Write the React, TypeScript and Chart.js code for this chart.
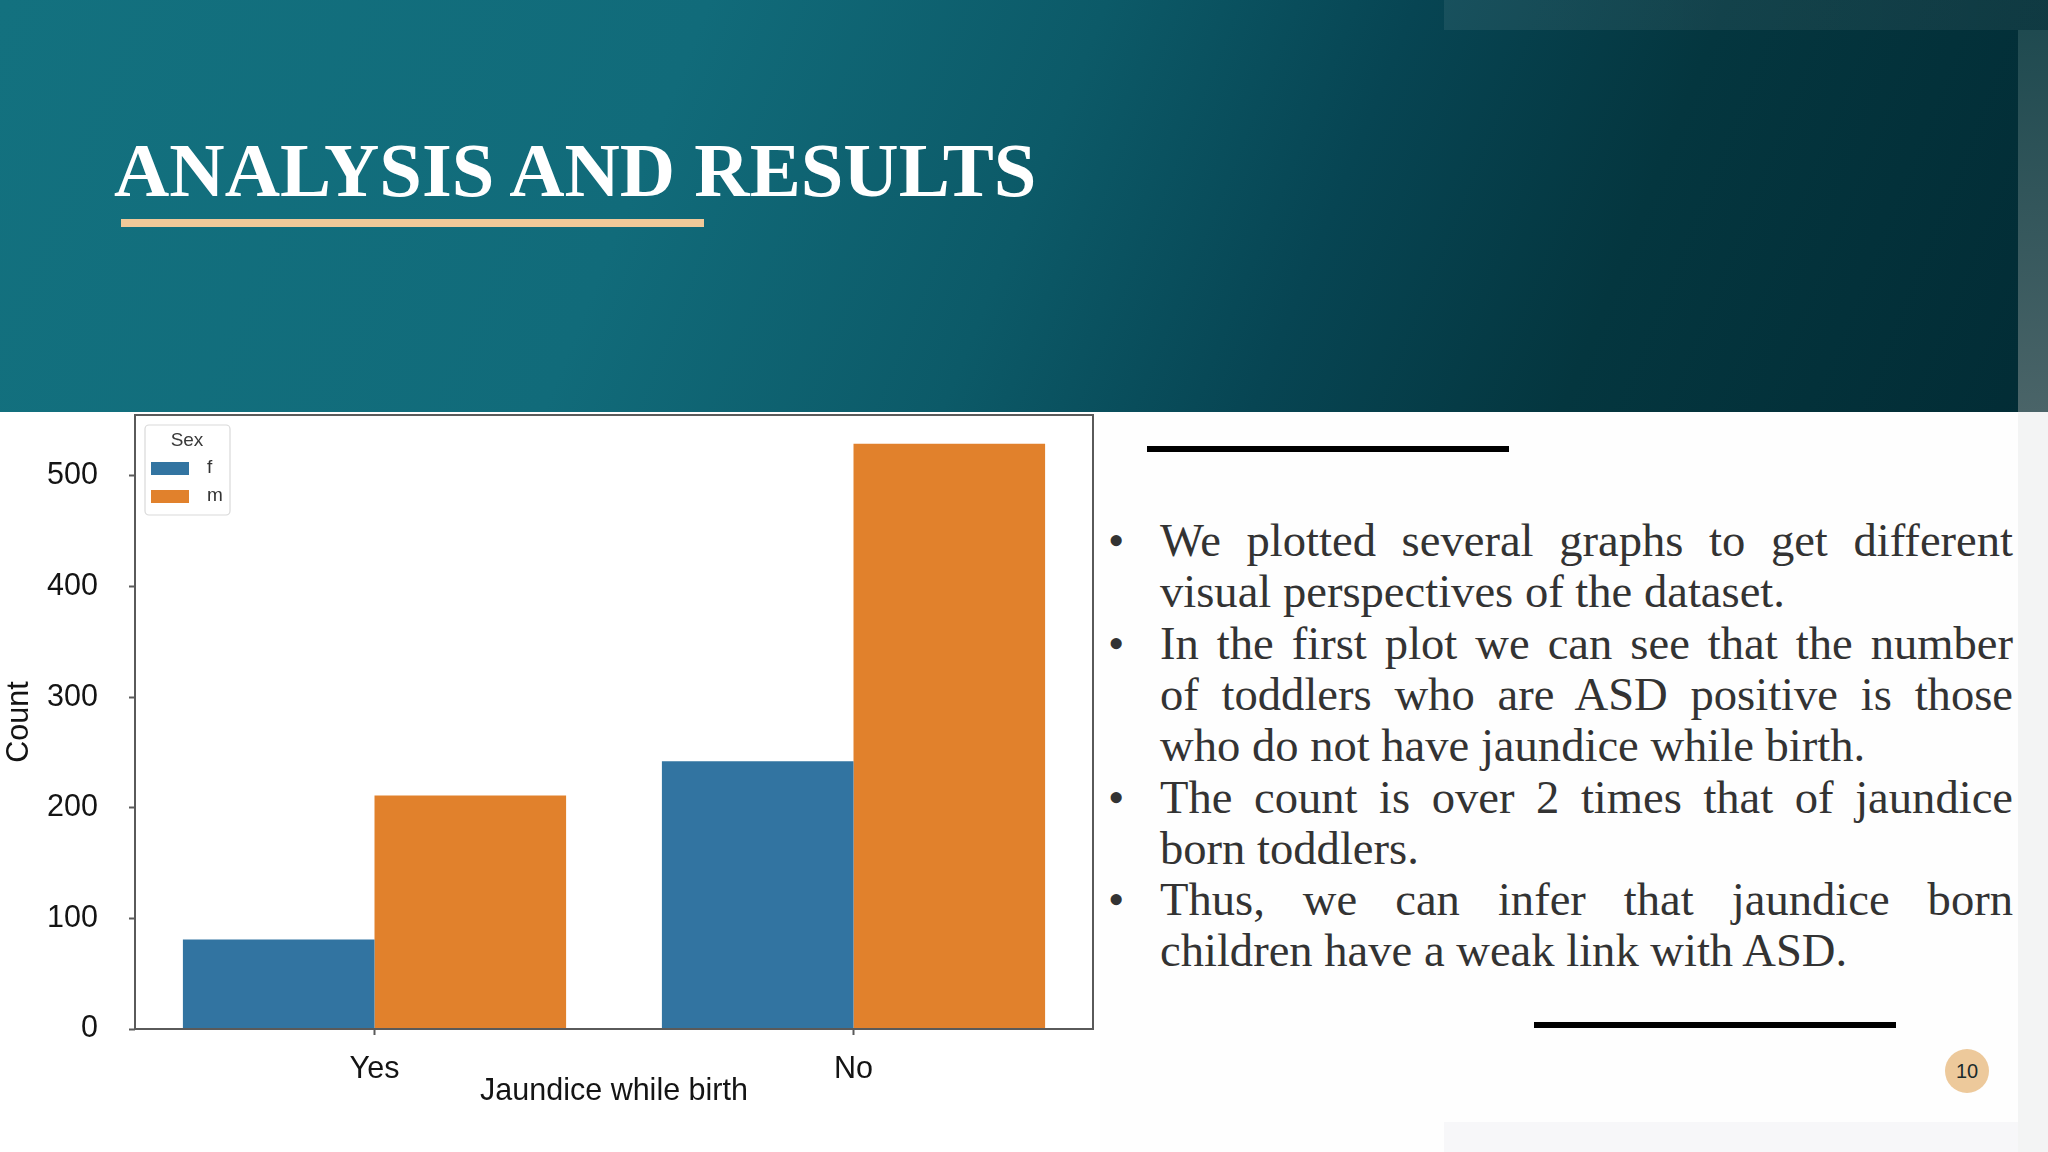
import React, { useEffect, useRef } from "react";
import { Chart, registerables } from "chart.js";

Chart.register(...registerables);

// ---------- data ----------
const categories = ["Yes", "No"];
const seriesLabels = ["f", "m"];
const femaleCounts = [81, 242];
const maleCounts = [211, 529];
const seriesColors = ["#3274a1", "#e1812c"];
const yTickValues = [0, 100, 200, 300, 400, 500];
const yMax = 555;
const xTitle = "Jaundice while birth";
const yTitle = "Count";
const legendTitle = "Sex";

const slideTitle = "ANALYSIS AND RESULTS";
const bulletLines: string[][] = [
  ["We plotted several graphs to get different", "visual perspectives of the dataset."],
  [
    "In the first plot we can see that the number",
    "of toddlers who are ASD positive is those",
    "who do not have jaundice while birth.",
  ],
  ["The count is over 2 times that of jaundice", "born toddlers."],
  ["Thus, we can infer that jaundice born", "children have a weak link with ASD."],
];
const pageNumber = "10";

const FONT = "'Liberation Sans', Arial, sans-serif";
const SERIF = "'Liberation Serif', 'Times New Roman', serif";
const AXIS_FONT_SIZE = 30.5;

const framePlugin = {
  id: "frameBox",
  afterDraw(chart: any) {
    const { ctx, chartArea: a } = chart;
    ctx.save();
    ctx.strokeStyle = "#5a5a5a";
    ctx.lineWidth = 2;
    ctx.strokeRect(a.left, a.top, a.right - a.left, a.bottom - a.top);
    ctx.restore();
  },
};

const boxLegendPlugin = {
  id: "boxLegend",
  afterDraw(chart: any) {
    const { ctx, chartArea: a } = chart;
    const x = a.left + 10;
    const y = a.top + 10;
    const w = 85;
    const h = 90;
    ctx.save();
    ctx.beginPath();
    if ((ctx as any).roundRect) (ctx as any).roundRect(x, y, w, h, 4);
    else ctx.rect(x, y, w, h);
    ctx.fillStyle = "rgba(255,255,255,0.9)";
    ctx.fill();
    ctx.strokeStyle = "#d9d9d9";
    ctx.lineWidth = 1.2;
    ctx.stroke();
    ctx.fillStyle = "#3a3a3a";
    ctx.font = `19px ${FONT}`;
    ctx.textAlign = "center";
    ctx.textBaseline = "middle";
    ctx.fillText(legendTitle, a.left + 52, a.top + 26);
    chart.data.datasets.forEach((ds: any, i: number) => {
      ctx.fillStyle = ds.backgroundColor;
      ctx.fillRect(a.left + 16, a.top + 47 + 28 * i, 38, 13);
      ctx.fillStyle = "#333";
      ctx.textAlign = "left";
      ctx.fillText(ds.label, a.left + 72, a.top + 53 + 28 * i);
    });
    ctx.restore();
  },
};

function BarChart() {
  const ref = useRef<HTMLCanvasElement | null>(null);
  useEffect(() => {
    if (!ref.current) return;
    const chart = new Chart(ref.current, {
      type: "bar",
      data: {
        labels: categories,
        datasets: [
          {
            label: seriesLabels[0],
            data: femaleCounts,
            backgroundColor: seriesColors[0],
            borderWidth: 0,
            categoryPercentage: 0.8,
            barPercentage: 1.0,
          },
          {
            label: seriesLabels[1],
            data: maleCounts,
            backgroundColor: seriesColors[1],
            borderWidth: 0,
            categoryPercentage: 0.8,
            barPercentage: 1.0,
          },
        ],
      },
      options: {
        animation: false,
        responsive: false,
        devicePixelRatio: 1,
        layout: { padding: { top: 3, right: 7, left: 0, bottom: 0 } },
        plugins: {
          legend: { display: false },
          tooltip: { enabled: false },
        },
        scales: {
          x: {
            offset: true,
            grid: {
              offset: false,
              drawOnChartArea: false,
              drawTicks: true,
              tickLength: 6,
              tickWidth: 2,
              tickColor: "#5a5a5a",
            },
            border: { display: false },
            ticks: {
              color: "#141414",
              font: { family: FONT, size: AXIS_FONT_SIZE },
              padding: 16,
              maxRotation: 0,
              autoSkip: false,
            },
            title: {
              display: true,
              text: xTitle,
              color: "#141414",
              font: { family: FONT, size: AXIS_FONT_SIZE },
              padding: { top: 0, bottom: 42 },
            },
            afterFit: (scale: any) => {
              scale.height = 123;
              scale.paddingLeft = 0;
              scale.paddingRight = 0;
            },
          },
          y: {
            min: 0,
            max: yMax,
            grid: {
              drawOnChartArea: false,
              drawTicks: true,
              tickLength: 6,
              tickWidth: 2,
              tickColor: "#5a5a5a",
            },
            border: { display: false },
            ticks: {
              stepSize: 100,
              includeBounds: false,
              color: "#141414",
              font: { family: FONT, size: AXIS_FONT_SIZE },
              padding: 31,
              callback: (v: any) => (yTickValues.includes(Number(v)) ? String(v) : ""),
            },
            title: {
              display: true,
              text: yTitle,
              color: "#141414",
              font: { family: FONT, size: AXIS_FONT_SIZE },
              padding: { top: 1, bottom: 0 },
            },
            afterFit: (scale: any) => {
              scale.width = 135;
              scale.paddingTop = 0;
              scale.paddingBottom = 0;
            },
          },
        },
      },
      plugins: [framePlugin, boxLegendPlugin],
    } as any);
    return () => chart.destroy();
  }, []);
  return (
    <canvas
      ref={ref}
      width={1100}
      height={740}
      style={{ position: "absolute", left: 0, top: 412, width: 1100, height: 740, background: "#ffffff" }}
    />
  );
}

export default function App() {
  const lineH = 51.3;
  let lineIndex = 0;
  const textBlocks: React.ReactNode[] = [];
  bulletLines.forEach((group, gi) => {
    group.forEach((line, li) => {
      const top = 515 + lineIndex * lineH;
      const isLast = li === group.length - 1;
      if (li === 0) {
        textBlocks.push(
          <div
            key={`b${gi}`}
            style={{
              position: "absolute",
              left: 1108,
              top,
              height: lineH,
              lineHeight: `${lineH}px`,
              fontFamily: SERIF,
              fontSize: 46.6,
              color: "#333",
            }}
          >
            •
          </div>
        );
      }
      textBlocks.push(
        <div
          key={`l${gi}-${li}`}
          style={{
            position: "absolute",
            left: 1160,
            top,
            width: 853,
            height: lineH,
            lineHeight: `${lineH}px`,
            fontFamily: SERIF,
            fontSize: 46.6,
            color: "#333",
            textAlign: isLast ? "left" : "justify",
            textAlignLast: isLast ? "left" : "justify",
            whiteSpace: "normal",
          } as any}
        >
          {line}
        </div>
      );
      lineIndex++;
    });
  });

  return (
    <div
      style={{
        position: "fixed",
        left: 0,
        top: 0,
        width: 2048,
        height: 1152,
        overflow: "hidden",
        background: "#fefefe",
      }}
    >
      {/* header */}
      <div
        style={{
          position: "absolute",
          left: 0,
          top: 0,
          width: 2048,
          height: 412,
          background:
            "linear-gradient(112deg, #13717f 0%, #116b7a 32%, #0c5a68 50%, #074553 64%, #04363f 78%, #022c35 100%)",
        }}
      />
      <div
        style={{
          position: "absolute",
          left: 1444,
          top: 0,
          width: 604,
          height: 30,
          background: "linear-gradient(90deg, rgba(255,255,255,0.07), rgba(255,255,255,0.05))",
        }}
      />
      <div
        style={{
          position: "absolute",
          left: 2018,
          top: 30,
          width: 30,
          height: 382,
          background: "linear-gradient(180deg, #1f4a50, #4a6468)",
        }}
      />
      <div
        style={{ position: "absolute", left: 2018, top: 412, width: 30, height: 740, background: "#f3f4f4" }}
      />
      <div
        style={{ position: "absolute", left: 1444, top: 1122, width: 574, height: 30, background: "#f7f7f9" }}
      />
      {/* title */}
      <div
        style={{
          position: "absolute",
          left: 114,
          top: 133,
          height: 76,
          lineHeight: "76px",
          fontFamily: SERIF,
          fontWeight: 700,
          fontSize: 76.6,
          color: "#ffffff",
          whiteSpace: "nowrap",
        }}
      >
        {slideTitle}
      </div>
      <div style={{ position: "absolute", left: 121, top: 219, width: 583, height: 8, background: "#f0c999" }} />

      <BarChart />

      {/* decorative lines */}
      <div style={{ position: "absolute", left: 1147, top: 446, width: 362, height: 6, background: "#000" }} />
      <div style={{ position: "absolute", left: 1534, top: 1022, width: 362, height: 6, background: "#000" }} />

      {textBlocks}

      {/* page number */}
      <div
        style={{
          position: "absolute",
          left: 1945,
          top: 1049,
          width: 44,
          height: 44,
          borderRadius: "50%",
          background: "#edc99b",
          color: "#1b2b2b",
          fontFamily: FONT,
          fontSize: 20,
          lineHeight: "44px",
          textAlign: "center",
        }}
      >
        {pageNumber}
      </div>
    </div>
  );
}
